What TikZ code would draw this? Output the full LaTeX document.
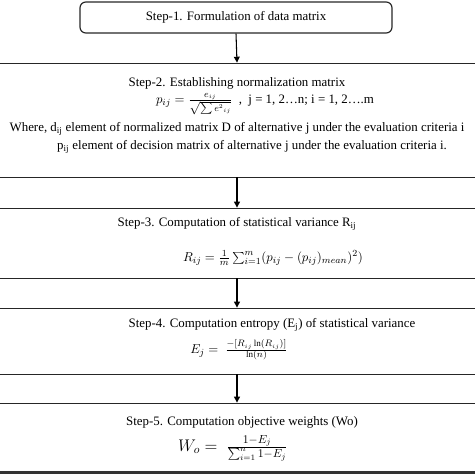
\documentclass[tikz,border=0pt]{standalone}
\usepackage{fontspec}
\setmainfont{Liberation Serif}
\usetikzlibrary{arrows.meta,fit}

\begin{document}
\begin{tikzpicture}[
    x=0.03cm, y=-0.03cm,
    step box/.style={draw=black!85, line width=0.7pt, inner sep=0pt},
    first box/.style={draw=black!85, line width=1pt, rounded corners=5pt, inner sep=0pt},
    step text/.style={font=\fontsize{11}{13}\selectfont, inner sep=0pt},
    main edge/.style={draw=black, line width=0.9pt, -{Triangle[length=5pt,width=5pt]}}
]
\useasboundingbox (0,0) rectangle (474,474);

% boxes of the five steps
\node[first box, fit={(80,2) (392,33)}] (S1) {};
\node[step box, fit={(-4,63) (478,177)}] (S2) {};
\node[step box, fit={(-4,208) (478,278)}] (S3) {};
\node[step box, fit={(-4,308) (478,374)}] (S4) {};
\node[step box, fit={(-4,403) (478,472)}] (S5) {};
\draw[line width=2pt, draw=black!80] (S5.south west) -- (S5.south east);

% texts
\node[step text] (T1) at (236,17) {Step-1. Formulation of data matrix};

\node[step text] (T2) at (237,83) {Step-2. Establishing normalization matrix};
\node[step text] (F2) at (265,104) {$p_{ij} = \frac{e_{ij}}{\sqrt{\sum e^{2}{}_{ij}}}$ \ , \ j = 1, 2…n; i = 1, 2….m};
\node[step text] (W2a) at (237,129) {Where, d\textsubscript{ij} element of normalized matrix D of alternative j under the evaluation criteria i};
\node[step text] (W2b) at (252,147) {p\textsubscript{ij} element of decision matrix of alternative j under the evaluation criteria i.};

\node[step text] (T3) at (237,224) {Step-3. Computation of statistical variance R\textsubscript{ij}};
\node[step text] (F3) at (273,258) {$R_{ij} = \frac{1}{m}\textstyle\sum_{i=1}^{m}(p_{ij} - (p_{ij})_{mean})^{2})$};

\node[step text] (T4) at (272,325) {Step-4. Computation entropy (E\textsubscript{j}) of statistical variance};
\node[step text] (F4) at (239,350) {$E_{j} = \ \frac{-[R_{ij}\ln(R_{ij})]}{\ln(n)}$};

\node[step text] (T5) at (242,422) {Step-5. Computation objective weights (Wo)};
\node[step text, font=\fontsize{14}{16}\selectfont] (F5) at (233,448) {$W_{o} = \ \frac{1-E_{j}}{\sum_{i=1}^{n} 1-E_{j}}$};

% arrows between the steps
\draw[main edge] (S1.south) -- (S2.north);
\draw[main edge] (S2.south) -- (S3.north);
\draw[main edge] (S3.south) -- (S4.north);
\draw[main edge] (S4.south) -- (S5.north);

\end{tikzpicture}
\end{document}
